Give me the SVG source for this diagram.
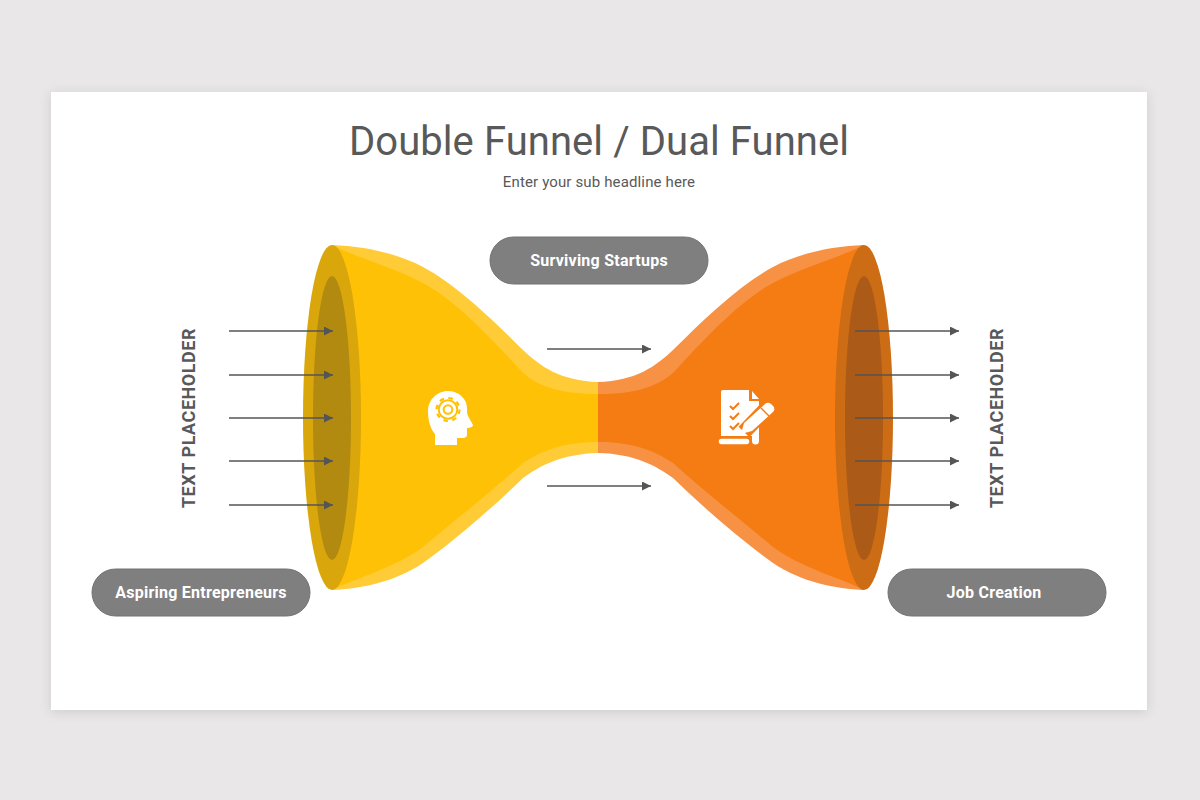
<svg xmlns="http://www.w3.org/2000/svg" width="1200" height="800" viewBox="0 0 1200 800">
<defs>
<filter id="sh" x="-5%" y="-5%" width="110%" height="112%"><feDropShadow dx="0" dy="2" stdDeviation="6" flood-color="#000" flood-opacity="0.12"/></filter>
<marker id="ah" markerUnits="userSpaceOnUse" markerWidth="10" markerHeight="10" refX="9" refY="4.5" orient="auto"><path d="M0 0L9 4.5L0 9z" fill="#555"/></marker>
<style>
text{font-family:Roboto,"Liberation Sans",sans-serif}
.pill rect{fill:#7f7f7f;stroke:#737373;stroke-width:1}
.pill text{fill:#fff;font-weight:700;font-size:16px;text-anchor:middle;letter-spacing:.25px}
.vt{fill:#595959;font-weight:700;font-size:18px;text-anchor:middle;letter-spacing:.55px}
.arr line{stroke:#555;stroke-width:1.6;marker-end:url(#ah)}
.ic{fill:#fff}
</style>
</defs>
<rect width="1200" height="800" fill="#e9e7e8"/>
<rect x="51" y="92" width="1096" height="618" fill="#fff" filter="url(#sh)"/>
<text x="599" y="155" text-anchor="middle" font-size="40" letter-spacing=".07" fill="#595959">Double Funnel / Dual Funnel</text>
<text x="599" y="187" text-anchor="middle" font-size="15" letter-spacing=".14" fill="#595959">Enter your sub headline here</text>

<g id="funnel-left">
<path d="M332 245C360 246 395 252 423 267C455 284 490 317 523 350C540 366 560 381 599 382V453C560 454 540 466 523 478C490 510 455 540 423 563C395 582 360 589 332 590z" fill="#ffcb37"/>
<path d="M332 245C350 255 395 268 423 283C455 300 490 337 523 373C540 387 560 394 599 394V442C560 442 540 452 523 463C490 493 455 520 423 547C395 568 350 580 332 590z" fill="#ffc105"/>
<ellipse cx="332" cy="417.500" rx="29" ry="172.500" fill="#d9a60b"/>
<ellipse cx="332" cy="418" rx="19" ry="142" fill="#b28a10"/>
</g>
<g id="funnel-right">
<path d="M864 245C836 246 801 252 773 267C741 284 706 317 673 350C656 366 636 381 598 382V453C636 454 656 466 673 478C706 510 741 540 773 563C801 582 836 589 864 590z" fill="#f79244"/>
<path d="M864 245C846 255 801 268 773 283C741 300 706 337 673 373C656 387 636 394 598 394V442C636 442 656 452 673 463C706 493 741 520 773 547C801 568 846 580 864 590z" fill="#f57c13"/>
<ellipse cx="864" cy="417.500" rx="29" ry="172.500" fill="#cc6c14"/>
<ellipse cx="864" cy="418" rx="19" ry="142" fill="#ab5a18"/>
</g>

<g id="icon-head">
<path class="ic" d="M435 445V434C430 428 428 420 428 411C428 400 437 391 448 391C459 391 467 399 467 408C467 411 467 414 468 416L473 425C473 427 470 428 467 428V435C467 437 465 438 463 438H457V445z"/>
<circle cx="448" cy="409.500" r="11.500" fill="none" stroke="#ffc105" stroke-width="2.200" stroke-dasharray="4.500 4.530"/>
<circle cx="448" cy="409.500" r="9.300" fill="none" stroke="#ffc105" stroke-width="2"/>
<circle cx="448" cy="409.500" r="4.300" fill="none" stroke="#ffc105" stroke-width="2"/>
</g>
<g id="icon-doc">
<path class="ic" d="M723 390H749V401H759V441a3.500 3.500 0 0 1-7 0V436H721V392a2 2 0 0 1 2-2z"/>
<path class="ic" d="M752 391L759 399H752z"/>
<rect class="ic" x="718" y="438" width="32" height="7" rx="3.500" stroke="#f57c13" stroke-width="1.500"/>
<path d="M730 406l3 3l6-6M730 416l3 3l6-6M730 426l3 3l6-6" fill="none" stroke="#f57c13" stroke-width="2"/>
<path d="M744 432L767 408" stroke="#f57c13" stroke-width="15" fill="none"/>
<path class="ic" d="M741 434L744 423L765 404a4 4 0 0 1 6 0l2 2a4 4 0 0 1 0 6L752 431z"/>
<path d="M761 408L769 416" stroke="#f57c13" stroke-width="1.500"/>
</g>

<g id="connectors" class="arr">
<line x1="229" y1="331" x2="333" y2="331"/>
<line x1="229" y1="375" x2="333" y2="375"/>
<line x1="229" y1="418" x2="333" y2="418"/>
<line x1="229" y1="461" x2="333" y2="461"/>
<line x1="229" y1="505" x2="333" y2="505"/>
<line x1="547" y1="349" x2="651" y2="349"/>
<line x1="547" y1="486" x2="651" y2="486"/>
<line x1="855" y1="331" x2="959" y2="331"/>
<line x1="855" y1="375" x2="959" y2="375"/>
<line x1="855" y1="418" x2="959" y2="418"/>
<line x1="855" y1="461" x2="959" y2="461"/>
<line x1="855" y1="505" x2="959" y2="505"/>
</g>

<g id="pill-surviving" class="pill"><rect x="490" y="237" width="218" height="47" rx="23.500"/><text x="599" y="266">Surviving Startups</text></g>
<g id="pill-aspiring" class="pill"><rect x="92" y="569" width="218" height="47" rx="23.500"/><text x="201" y="598">Aspiring Entrepreneurs</text></g>
<g id="pill-job" class="pill"><rect x="888" y="569" width="218" height="47" rx="23.500"/><text x="994" y="598">Job Creation</text></g>
<text class="vt" transform="translate(195 418) rotate(-90)">TEXT PLACEHOLDER</text>
<text class="vt" transform="translate(1003 418) rotate(-90)">TEXT PLACEHOLDER</text>
</svg>
